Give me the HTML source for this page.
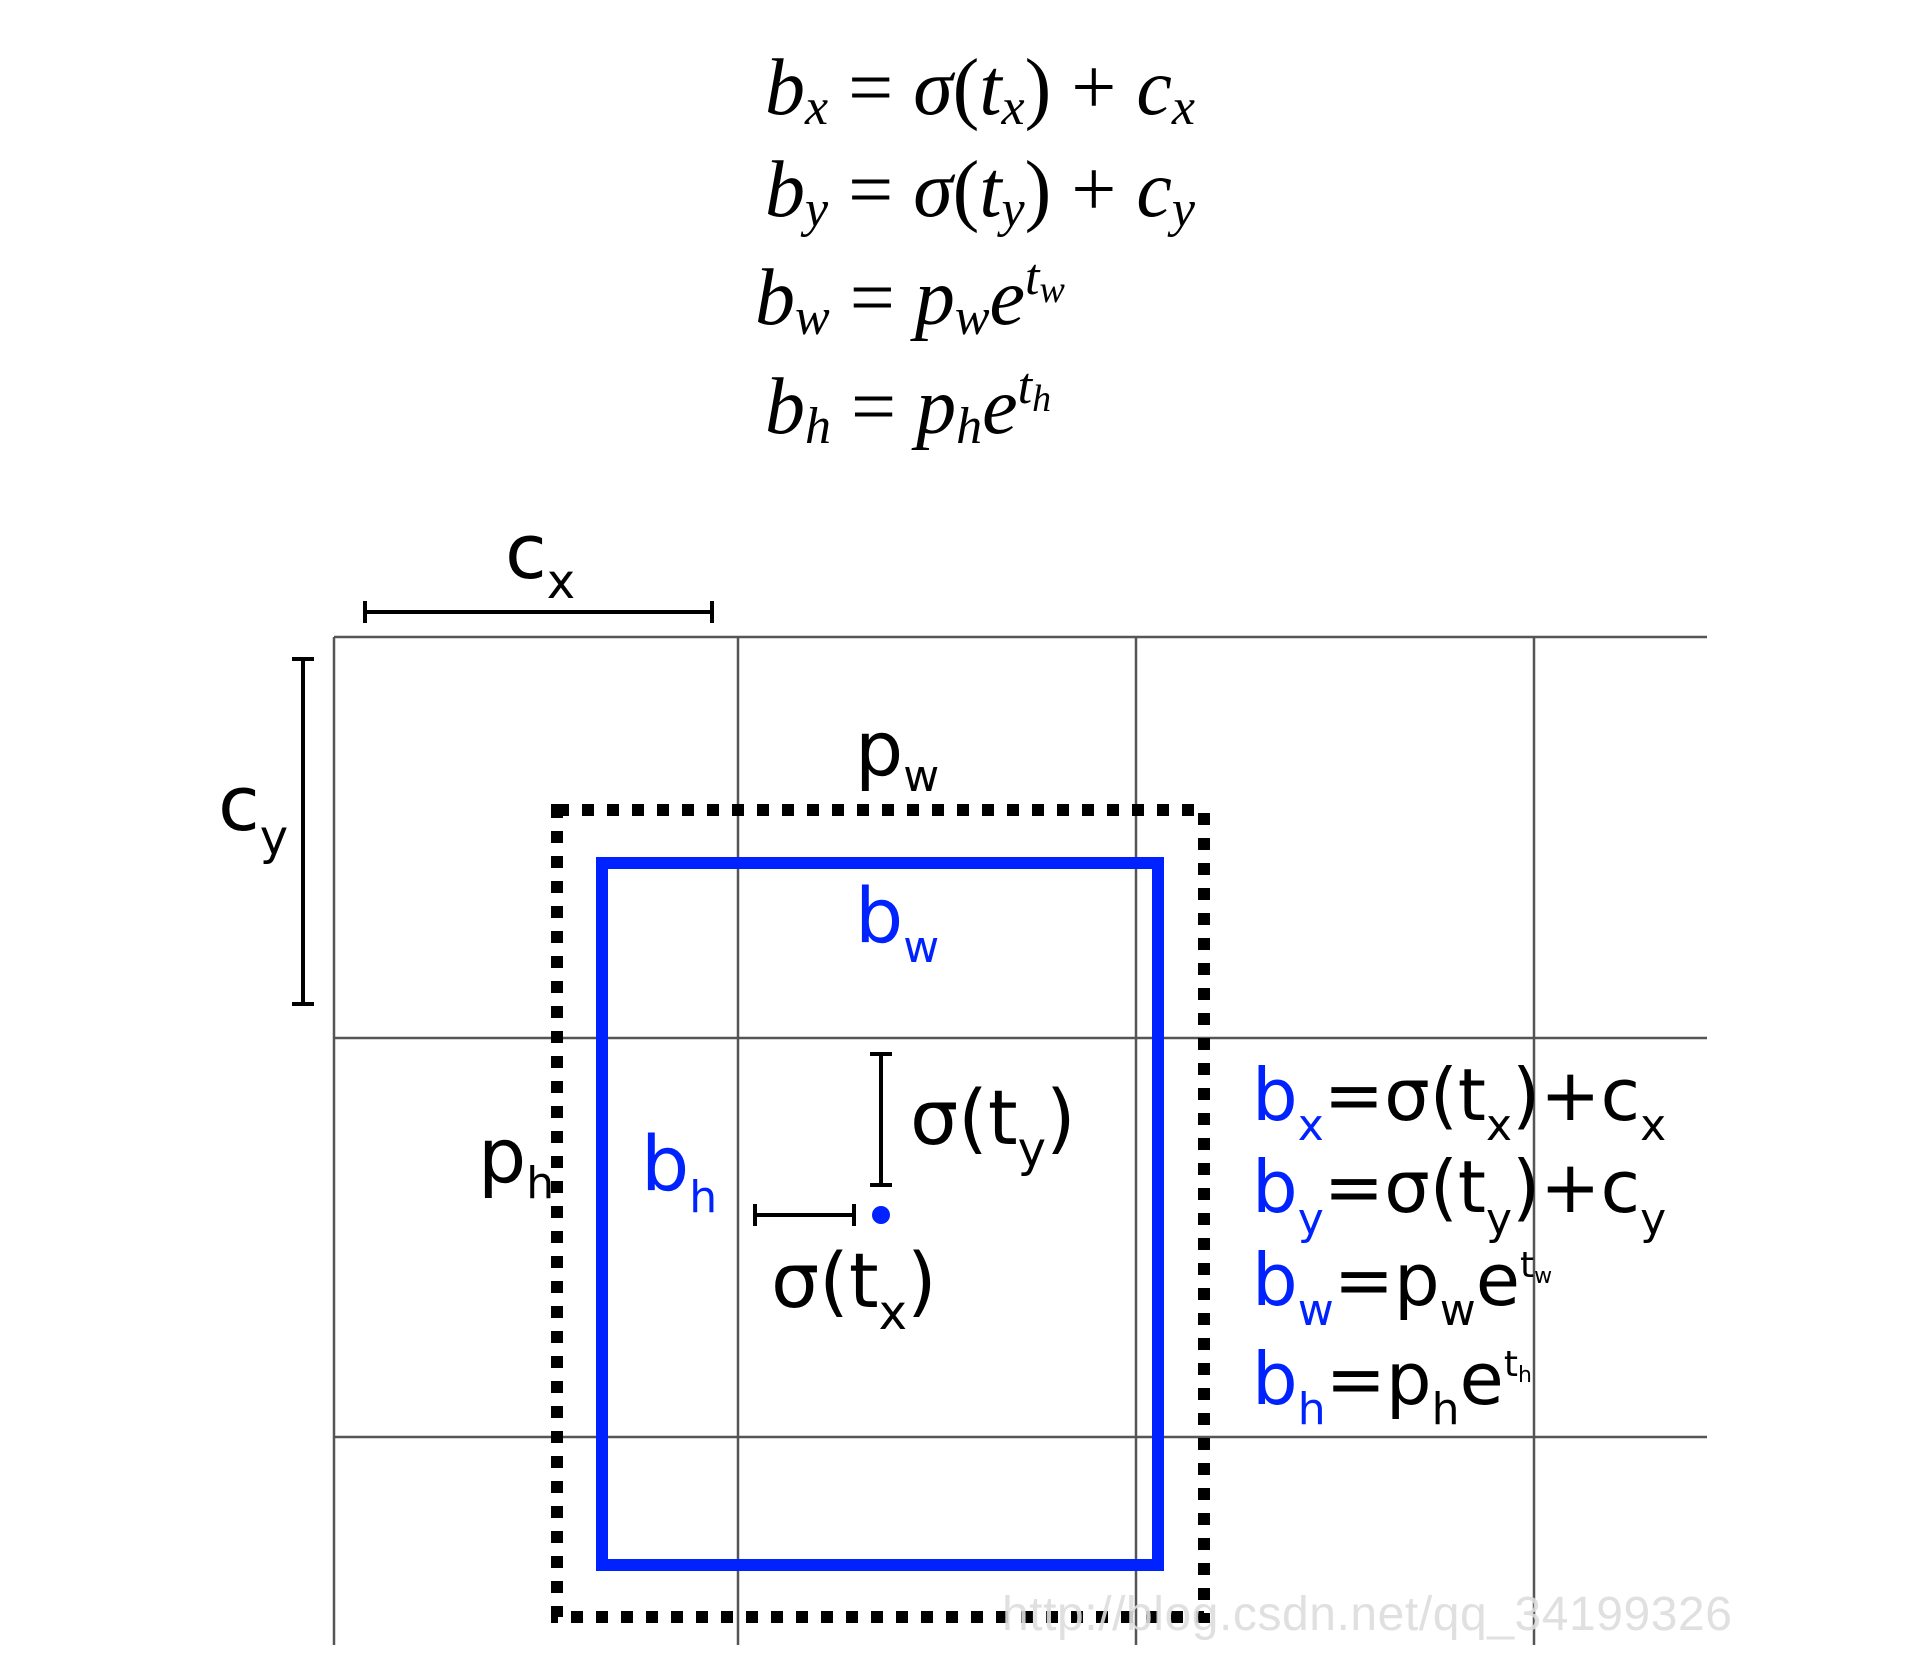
<!DOCTYPE html>
<html><head><meta charset="utf-8"><style>
html,body{margin:0;padding:0;background:#fff;}
svg{display:block;}
</style></head><body>
<svg width="1930" height="1660" viewBox="0 0 1930 1660" xmlns="http://www.w3.org/2000/svg">
<rect width="1930" height="1660" fill="#fff"/>
<g font-family="Liberation Serif, DejaVu Serif, serif" font-style="italic" font-size="80" fill="#000">
  <text x="765" y="114">b<tspan font-size="52" dy="10">x</tspan><tspan dy="-10" font-style="normal"> = </tspan>σ<tspan font-style="normal">(</tspan>t<tspan font-size="52" dy="10">x</tspan><tspan dy="-10" font-style="normal">) + </tspan>c<tspan font-size="52" dy="10">x</tspan></text>
  <text x="765" y="216">b<tspan font-size="52" dy="10">y</tspan><tspan dy="-10" font-style="normal"> = </tspan>σ<tspan font-style="normal">(</tspan>t<tspan font-size="52" dy="10">y</tspan><tspan dy="-10" font-style="normal">) + </tspan>c<tspan font-size="52" dy="10">y</tspan></text>
  <text x="755" y="324">b<tspan font-size="52" dy="10">w</tspan><tspan dy="-10" font-style="normal"> = </tspan>p<tspan font-size="52" dy="10">w</tspan><tspan dy="-10">e</tspan><tspan font-size="52" dy="-30">t</tspan><tspan font-size="38" dy="8">w</tspan></text>
  <text x="765" y="433">b<tspan font-size="52" dy="10">h</tspan><tspan dy="-10" font-style="normal"> = </tspan>p<tspan font-size="52" dy="10">h</tspan><tspan dy="-10">e</tspan><tspan font-size="52" dy="-30">t</tspan><tspan font-size="38" dy="8">h</tspan></text>
</g>
<g stroke="#555" stroke-width="2.5" fill="none">
  <line x1="334" y1="637" x2="1707" y2="637"/>
  <line x1="334" y1="1038" x2="1707" y2="1038"/>
  <line x1="334" y1="1437" x2="1707" y2="1437"/>
  <line x1="334" y1="637" x2="334" y2="1645"/>
  <line x1="738" y1="637" x2="738" y2="1645"/>
  <line x1="1136" y1="637" x2="1136" y2="1645"/>
  <line x1="1534" y1="637" x2="1534" y2="1645"/>
</g>
<g stroke="#000" stroke-width="4" fill="none">
  <line x1="365" y1="612" x2="712" y2="612"/>
  <line x1="365" y1="601" x2="365" y2="623"/>
  <line x1="712" y1="601" x2="712" y2="623"/>
  <line x1="303" y1="659" x2="303" y2="1004"/>
  <line x1="292" y1="659" x2="314" y2="659"/>
  <line x1="292" y1="1004" x2="314" y2="1004"/>
  <line x1="881" y1="1054" x2="881" y2="1185"/>
  <line x1="870" y1="1054" x2="892" y2="1054"/>
  <line x1="870" y1="1185" x2="892" y2="1185"/>
  <line x1="755" y1="1215" x2="854" y2="1215"/>
  <line x1="755" y1="1204" x2="755" y2="1226"/>
  <line x1="854" y1="1204" x2="854" y2="1226"/>
</g>
<rect x="557" y="810" width="647" height="807" fill="none" stroke="#000" stroke-width="12" stroke-dasharray="12 13"/>
<rect x="602" y="863" width="556" height="702" fill="none" stroke="#0022ff" stroke-width="12"/>
<circle cx="881" cy="1215" r="9" fill="#0022ff"/>
<g font-family="DejaVu Sans, Liberation Sans, sans-serif" font-size="76" fill="#000">
  <text x="505" y="578">c<tspan font-size="48" dy="20">x</tspan></text>
  <text x="218" y="830">c<tspan font-size="48" dy="24">y</tspan></text>
  <text x="855" y="775">p<tspan font-size="44" dy="16">w</tspan></text>
  <text x="478" y="1182">p<tspan font-size="44" dy="16">h</tspan></text>
  <text x="910" y="1144">σ(t<tspan font-size="48" dy="22">y</tspan><tspan dy="-22">)</tspan></text>
  <text x="771" y="1307">σ(t<tspan font-size="48" dy="22">x</tspan><tspan dy="-22">)</tspan></text>
  <g fill="#0022ff">
    <text x="855" y="942">b<tspan font-size="44" dy="20">w</tspan></text>
    <text x="641" y="1190">b<tspan font-size="44" dy="22">h</tspan></text>
  </g>
  <g font-size="72">
    <text x="1252" y="1120"><tspan fill="#0022ff">b</tspan><tspan fill="#0022ff" font-size="44" dy="20">x</tspan><tspan dy="-20">=σ(t</tspan><tspan font-size="44" dy="20">x</tspan><tspan dy="-20">)+c</tspan><tspan font-size="44" dy="20">x</tspan></text>
    <text x="1252" y="1212"><tspan fill="#0022ff">b</tspan><tspan fill="#0022ff" font-size="44" dy="22">y</tspan><tspan dy="-22">=σ(t</tspan><tspan font-size="44" dy="22">y</tspan><tspan dy="-22">)+c</tspan><tspan font-size="44" dy="22">y</tspan></text>
    <text x="1252" y="1305"><tspan fill="#0022ff">b</tspan><tspan fill="#0022ff" font-size="44" dy="20">w</tspan><tspan dy="-20">=p</tspan><tspan font-size="44" dy="20">w</tspan><tspan dy="-20">e</tspan><tspan font-size="36" dy="-28">t</tspan><tspan font-size="22" dy="6">w</tspan></text>
    <text x="1252" y="1404"><tspan fill="#0022ff">b</tspan><tspan fill="#0022ff" font-size="44" dy="20">h</tspan><tspan dy="-20">=p</tspan><tspan font-size="44" dy="20">h</tspan><tspan dy="-20">e</tspan><tspan font-size="36" dy="-28">t</tspan><tspan font-size="22" dy="6">h</tspan></text>
  </g>
</g>
<text x="1002" y="1630" font-family="Liberation Sans, sans-serif" font-size="48" fill="#ddd" textLength="730" opacity="0.9">http://blog.csdn.net/qq_34199326</text>
</svg>
</body></html>
